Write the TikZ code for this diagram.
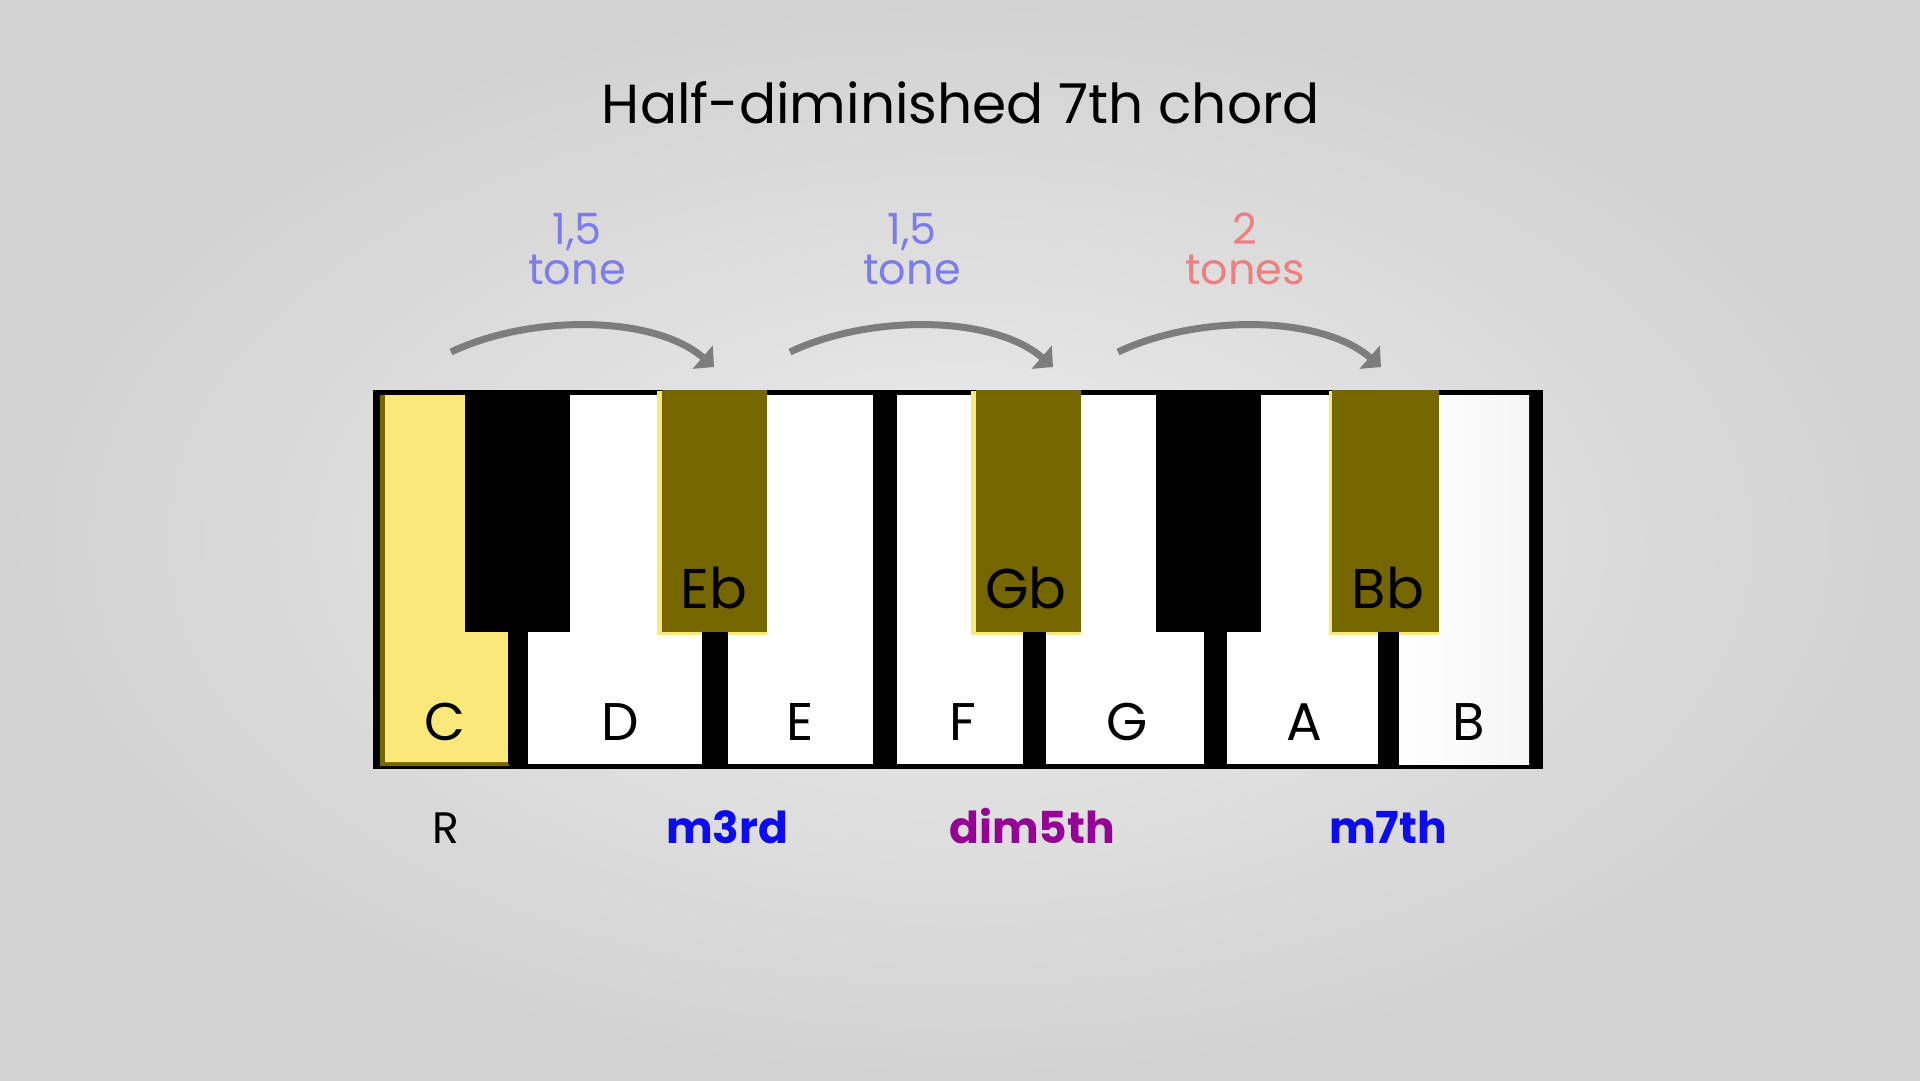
\documentclass[tikz,border=0pt]{standalone}
\usepackage{fontspec}
\setmainfont{Poppins}
\usetikzlibrary{arrows.meta}

\definecolor{keyyellow}{RGB}{250,233,122}
\definecolor{keyolive}{RGB}{118,102,0}
\definecolor{toneblue}{RGB}{124,124,236}
\definecolor{tonered}{RGB}{236,128,128}
\definecolor{arrowgray}{RGB}{125,125,125}
\definecolor{ivblue}{RGB}{12,12,238}
\definecolor{ivpurple}{RGB}{150,0,150}
\definecolor{paperlight}{RGB}{236,236,236}
\definecolor{paperdark}{RGB}{210,210,210}

\begin{document}
\begin{tikzpicture}[x=1pt,y=-1pt]

\tikzstyle{keylabel} = [anchor=base, inner sep=0pt, font=\fontsize{53}{60}\selectfont];
\tikzstyle{flatlabel} = [anchor=base, inner sep=0pt, font=\fontsize{56}{60}\selectfont];
\tikzstyle{steplabel} = [anchor=north, inner sep=0pt, align=center, font=\fontsize{43}{40}\selectfont];
\tikzstyle{intlabel} = [anchor=base, inner sep=0pt, font=\bfseries\fontsize{44}{50}\selectfont];
\tikzstyle{jump} = [arrowgray, line width=7pt, -{Triangle[width=30pt,length=15pt]}];

% paper
\useasboundingbox (0,0) rectangle (1920,1080);
\shade[inner color=paperlight, outer color=paperdark] (0,0) rectangle (1920,1080);

\node[anchor=base, inner sep=0pt, font=\fontsize{55}{60}\selectfont] (title) at (961,123) {Half-diminished 7th chord};

% keyboard
\fill[black] (373,390) rectangle (1543,769);
\fill[white] (380,395) rectangle (1529,764);
\shade[left color=white, right color=gray!8] (1399,395) rectangle (1529,764);

% root key C
\fill[keyolive] (380,395) -- (465,395) -- (465,628) -- (509,628) -- (509,766) -- (380,766) -- cycle;
\fill[keyyellow] (385,395) -- (465,395) -- (465,632) -- (508,632) -- (508,762) -- (385,762) -- cycle;

% black keys
\fill[black] (465,390) rectangle (570,632);
\fill[black] (1156,390) rectangle (1261,632);
\foreach \l/\r/\w in {662/767/5, 976/1081/5, 1332/1439/3} {
  \fill[keyyellow] (\l-\w,391) rectangle (\r,635);
  \fill[keyolive] (\l,390) rectangle (\r,632);
}

% gaps between white keys
\foreach \l/\r in {508/528, 702/728, 1023/1046, 1204/1227, 1378/1399}
  \fill[black] (\l,632) rectangle (\r,764);
\fill[black] (873,395) rectangle (897,764);

\node[keylabel] (kc) at (445,740) {C};
\node[keylabel] (kd) at (620,740) {D};
\node[keylabel] (ke) at (800,740) {E};
\node[keylabel] (kf) at (963,740) {F};
\node[keylabel] (kg) at (1127,740) {G};
\node[keylabel] (ka) at (1304,740) {A};
\node[keylabel] (kb) at (1469,740) {B};
\node[flatlabel] (keb) at (714,608) {Eb};
\node[flatlabel] (kgb) at (1026,608) {Gb};
\node[flatlabel] (kbb) at (1388,608) {Bb};

% steps
\node[steplabel, text=toneblue] (t1) at (577,213) {1,5\\tone};
\node[steplabel, text=toneblue] (t2) at (912,213) {1,5\\tone};
\node[steplabel, text=tonered] (t3) at (1245,213) {2\\tones};

\foreach \i/\dx in {1/0, 2/339, 3/667} {
  \coordinate (from\i) at (451+\dx,352);
  \coordinate (to\i) at (714+\dx,367);
  \draw[jump] (from\i) .. controls +(80,-38) and +(-60,-52) .. (to\i);
}

% intervals
\node[anchor=base, inner sep=0pt, font=\fontsize{44}{50}\selectfont] (root) at (446,843) {R};
\node[intlabel, text=ivblue] (third) at (727,843) {m3rd};
\node[intlabel, text=ivpurple] (fifth) at (1032,843) {dim5th};
\node[intlabel, text=ivblue] (seventh) at (1388,843) {m7th};

\end{tikzpicture}
\end{document}
